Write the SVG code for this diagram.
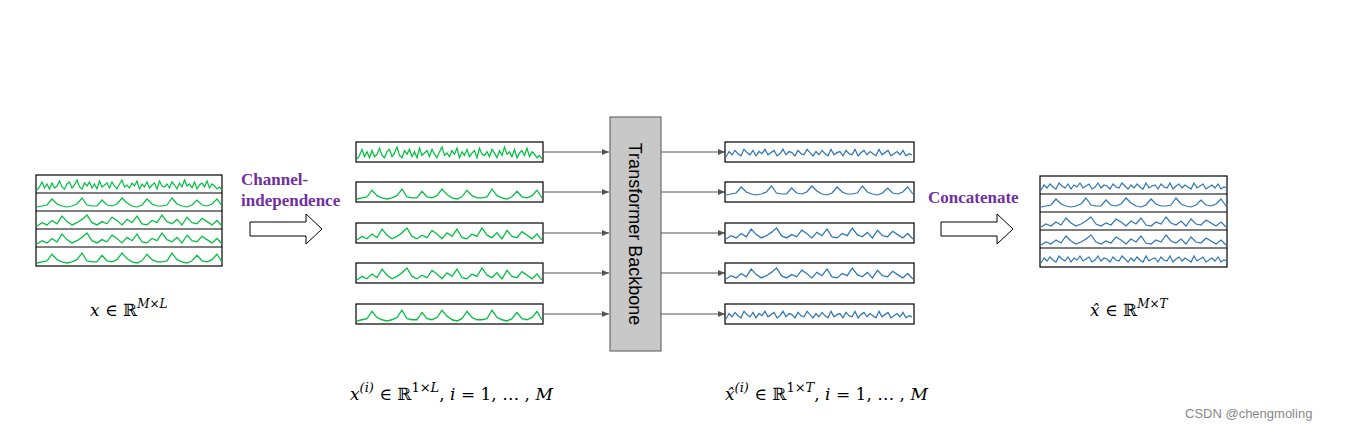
<svg xmlns="http://www.w3.org/2000/svg" xmlns:xlink="http://www.w3.org/1999/xlink" width="1356" height="432" viewBox="0 0 1356 432">
<style>
.box{fill:#fff;stroke:#000;stroke-width:1.2}
.g{fill:none;stroke:#00c040;stroke-width:1.2}
.b{fill:none;stroke:#2e75b6;stroke-width:1.2}
.lbl{font-family:"Liberation Serif",serif;font-weight:bold;font-size:17px;fill:#7030a0}
.m{font-family:"DejaVu Serif","Liberation Serif",serif;font-size:17px;fill:#000}
.i{font-style:italic}
.sup{font-size:12px}
.ln{stroke:#555;stroke-width:1;fill:none}
.sep{stroke:#000;stroke-width:1.2}
</style>
<defs>
<marker id="ah" markerWidth="8" markerHeight="8" refX="7" refY="4" orient="auto"><path d="M0,1 L7,4 L0,7z" fill="#555"/></marker>
<polyline id="ws" points="0,0 5,-1 10,-2 15,-8 20,-3 25,-1 30,0 35,-1 40,-3 45,-9 50,-2 55,-1 60,-1 65,-7 70,-2 75,-1 80,-3 85,-9 90,-4 95,-1 100,0 105,-2 110,-8 115,-3 120,-1 125,-1 130,-2 135,-9 140,-3 145,-1 150,0 155,-2 160,-7 165,-2 170,-1 175,-3 180,-8 185,-1"/>
<polyline id="wp" points="0,0 5,-3 10,-1 15,-5 20,-2 25,-9 30,-4 35,-1 40,-3 45,-6 50,-10 55,-3 60,-1 65,-4 70,-2 75,-8 80,-5 85,-1 90,-6 95,-3 100,-9 105,-2 110,-1 115,-5 120,-3 125,-10 130,-4 135,-2 140,-6 145,-1 150,-8 155,-3 160,-2 165,-7 170,-4 175,-1 180,-5 185,0"/>
<polyline id="wn" points="0,0 2.5,-3 5,-8 7.5,-2 10,-6 12.5,-1 15,-7 17.5,-2 20,-4 22.5,-9 25,-3 27.5,-1 30,-6 32.5,-8 35,-2 37.5,-5 40,-10 42.5,-3 45,-1 47.5,-7 50,-4 52.5,-8 55,-2 57.5,-6 60,-1 62.5,-9 65,-3 67.5,-5 70,-7 72.5,-2 75,-8 77.5,-4 80,-1 82.5,-6 85,-10 87.5,-3 90,-5 92.5,-2 95,-7 97.5,-4 100,-9 102.5,-1 105,-6 107.5,-3 110,-8 112.5,-2 115,-5 117.5,-7 120,-1 122.5,-9 125,-4 127.5,-3 130,-6 132.5,-2 135,-8 137.5,-5 140,-1 142.5,-7 145,-3 147.5,-10 150,-4 152.5,-6 155,-2 157.5,-8 160,-1 162.5,-5 165,-7 167.5,-3 170,-9 172.5,-2 175,-6 177.5,-4 180,-1 182.5,-3 185,0"/>
<polyline id="bw" points="0,0 3,-5 6,-2 9,-6 12,-3 15,-1 18,-7 21,-4 24,-2 27,-6 30,-1 33,-5 36,-3 39,-7 42,-2 45,-4 48,-6 51,-1 54,-3 57,-7 60,-2 63,-5 66,-4 69,-1 72,-6 75,-3 78,-2 81,-7 84,-4 87,-1 90,-5 93,-2 96,-6 99,-3 102,-1 105,-7 108,-2 111,-4 114,-5 117,-1 120,-6 123,-3 126,-2 129,-7 132,-1 135,-4 138,-6 141,-2 144,-5 147,-3 150,-1 153,-7 156,-2 159,-4 162,-6 165,-1 168,-3 171,-5 174,-2 177,-6 180,-1 183,-3 186,-2"/>
</defs>
<g id="input">
<rect class="box" x="36" y="175" width="186" height="91"/>
<line class="sep" x1="36" y1="193" x2="222" y2="193"/>
<line class="sep" x1="36" y1="211" x2="222" y2="211"/>
<line class="sep" x1="36" y1="229" x2="222" y2="229"/>
<line class="sep" x1="36" y1="247" x2="222" y2="247"/>
<use href="#wn" class="g" transform="translate(37,190)"/>
<use href="#ws" class="g" transform="translate(37,207)"/>
<use href="#wp" class="g" transform="translate(37,226) scale(1,1.1)"/>
<use href="#wp" class="g" transform="translate(37,244) scale(1,1.1)"/>
<use href="#ws" class="g" transform="translate(37,263) scale(1,1.1)"/>
<text class="m" x="90" y="316"><tspan class="i">x</tspan> ∈ ℝ<tspan class="sup i" dy="-8">M×L</tspan></text>
</g>
<g id="ci">
<text class="lbl" x="241" y="185">Channel-</text>
<text class="lbl" x="241" y="206">independence</text>
<path d="M250,222 H306 V214 L322,229 L306,244 V236 H250 Z" fill="#fff" stroke="#000"/>
</g>
<g id="strips-in">
<rect class="box" x="356" y="142" width="187" height="20"/>
<rect class="box" x="356" y="182" width="187" height="20"/>
<rect class="box" x="356" y="223" width="187" height="20"/>
<rect class="box" x="356" y="263" width="187" height="20"/>
<rect class="box" x="356" y="304" width="187" height="20"/>
<use href="#wn" class="g" transform="translate(357,159) scale(1,1.2)"/>
<use href="#ws" class="g" transform="translate(357,199) scale(1,1.1)"/>
<use href="#wp" class="g" transform="translate(357,240) scale(1,1.2)"/>
<use href="#wp" class="g" transform="translate(357,280) scale(1,1.2)"/>
<use href="#ws" class="g" transform="translate(357,321) scale(1,1.2)"/>
<text class="m" x="350" y="400" font-size="18"><tspan class="i">x</tspan><tspan class="i" font-size="13" dy="-8">(i)</tspan><tspan dy="8"> ∈ ℝ</tspan><tspan font-size="13" dy="-8">1×<tspan class="i">L</tspan></tspan><tspan dy="8">, </tspan><tspan class="i">i</tspan> = 1, … , <tspan class="i">M</tspan></text>
</g>
<g id="backbone">
<rect x="610" y="117" width="51" height="234" fill="#c8c8c8" stroke="#555"/>
<text transform="translate(629,234) rotate(90)" text-anchor="middle" font-family="Liberation Sans,sans-serif" font-size="18" fill="#000">Transformer Backbone</text>
</g>
<g id="connectors">
<line class="ln" x1="543" y1="152" x2="609" y2="152" marker-end="url(#ah)"/>
<line class="ln" x1="543" y1="192" x2="609" y2="192" marker-end="url(#ah)"/>
<line class="ln" x1="543" y1="233" x2="609" y2="233" marker-end="url(#ah)"/>
<line class="ln" x1="543" y1="273" x2="609" y2="273" marker-end="url(#ah)"/>
<line class="ln" x1="543" y1="314" x2="609" y2="314" marker-end="url(#ah)"/>
<line class="ln" x1="661" y1="152" x2="725" y2="152" marker-end="url(#ah)"/>
<line class="ln" x1="661" y1="192" x2="725" y2="192" marker-end="url(#ah)"/>
<line class="ln" x1="661" y1="233" x2="725" y2="233" marker-end="url(#ah)"/>
<line class="ln" x1="661" y1="273" x2="725" y2="273" marker-end="url(#ah)"/>
<line class="ln" x1="661" y1="314" x2="725" y2="314" marker-end="url(#ah)"/>
</g>
<g id="strips-out">
<rect class="box" x="725" y="142" width="189" height="20"/>
<rect class="box" x="725" y="182" width="189" height="20"/>
<rect class="box" x="725" y="223" width="189" height="20"/>
<rect class="box" x="725" y="263" width="189" height="20"/>
<rect class="box" x="725" y="304" width="189" height="20"/>
<use href="#bw" class="b" transform="translate(726,157) scale(1,1.1)"/>
<use href="#ws" class="b" transform="translate(726,195) scale(1.01,1)"/>
<use href="#wp" class="b" transform="translate(726,239) scale(1.01,1.1)"/>
<use href="#wp" class="b" transform="translate(726,279) scale(1.01,1.1)"/>
<use href="#bw" class="b" transform="translate(726,319) scale(1,1.1)"/>
<text class="m" x="725" y="400" font-size="18"><tspan class="i">x̂</tspan><tspan class="i" font-size="13" dy="-8">(i)</tspan><tspan dy="8"> ∈ ℝ</tspan><tspan font-size="13" dy="-8">1×<tspan class="i">T</tspan></tspan><tspan dy="8">, </tspan><tspan class="i">i</tspan> = 1, … , <tspan class="i">M</tspan></text>
</g>
<g id="concat">
<text class="lbl" x="928" y="203">Concatenate</text>
<path d="M941,222 H997 V214 L1013,229 L997,244 V236 H941 Z" fill="#fff" stroke="#000"/>
</g>
<g id="output">
<rect class="box" x="1040" y="176" width="187" height="91"/>
<line class="sep" x1="1040" y1="194" x2="1227" y2="194"/>
<line class="sep" x1="1040" y1="212" x2="1227" y2="212"/>
<line class="sep" x1="1040" y1="230" x2="1227" y2="230"/>
<line class="sep" x1="1040" y1="248" x2="1227" y2="248"/>
<use href="#bw" class="b" transform="translate(1041,190)"/>
<use href="#ws" class="b" transform="translate(1041,207)"/>
<use href="#wp" class="b" transform="translate(1041,227)"/>
<use href="#wp" class="b" transform="translate(1041,245)"/>
<use href="#bw" class="b" transform="translate(1041,263)"/>
<text class="m" x="1090" y="316"><tspan class="i">x̂</tspan> ∈ ℝ<tspan class="sup i" dy="-8">M×T</tspan></text>
</g>
<text x="1185" y="418" font-family="Liberation Sans,sans-serif" font-size="13" fill="#888">CSDN @chengmoling</text>
</svg>
